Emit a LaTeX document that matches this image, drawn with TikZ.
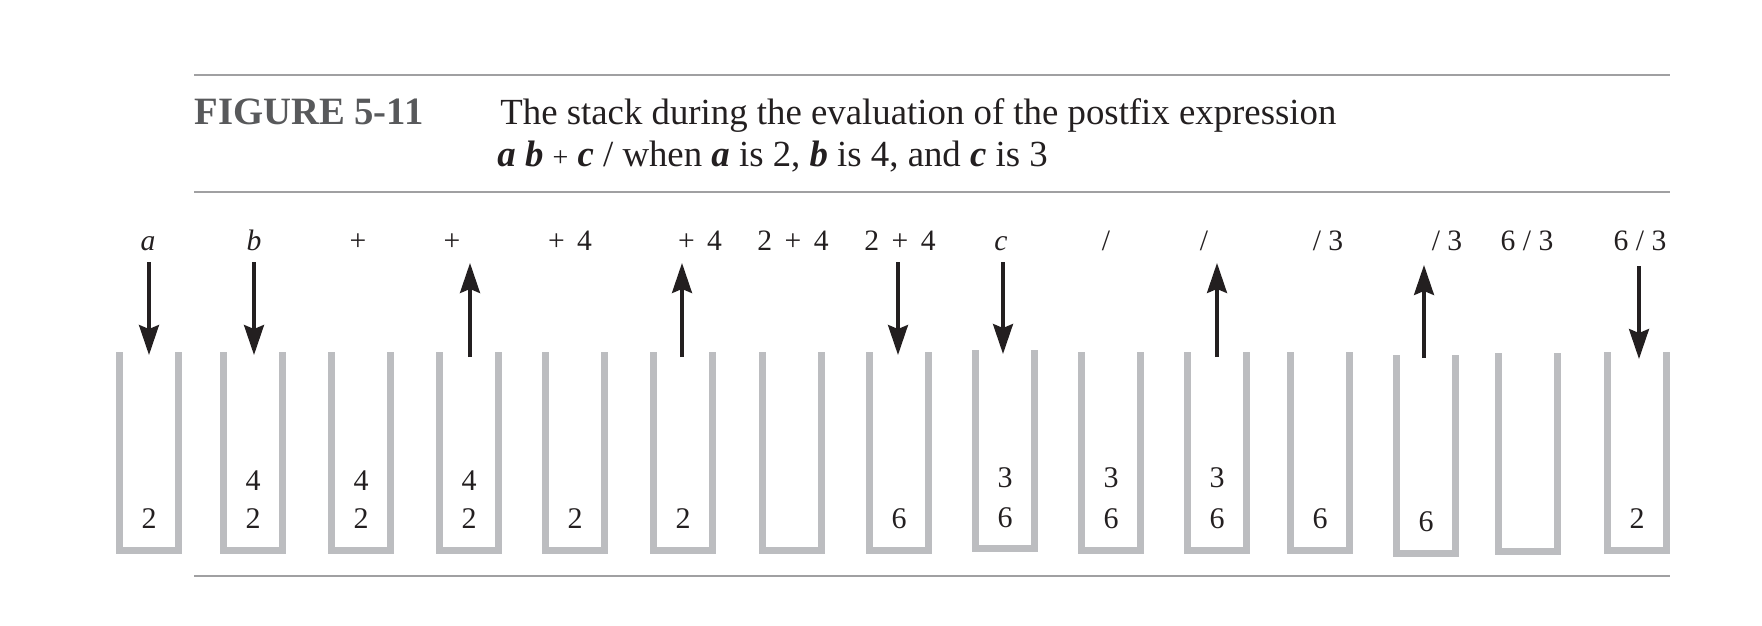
\documentclass[tikz,border=0pt]{standalone}
\usepackage{fontspec}
\setmainfont{Liberation Serif}
\usetikzlibrary{arrows.meta}
\definecolor{wallgray}{RGB}{188,189,192}
\definecolor{rulegray}{RGB}{160,160,162}
\definecolor{figgray}{RGB}{88,89,91}
\definecolor{ink}{RGB}{35,31,32}
\newcommand\opgap{\hspace{0.42em}}
\newcommand\bi[1]{\textbf{\textit{#1}}}
\begin{document}
\begin{tikzpicture}[x=0.5pt,y=-0.5pt,
  stackwall/.style={draw=wallgray,line width=3.5pt,line join=miter},
  rulestyle/.style={draw=rulegray,line width=1pt},
  lbl/.style={anchor=base,inner sep=0pt,font=\fontsize{14.8}{16}\selectfont,text=ink},
  num/.style={anchor=base,inner sep=0pt,font=\fontsize{15}{16}\selectfont,text=ink},
  captext/.style={anchor=base west,inner sep=0pt,font=\fontsize{18.4}{20}\selectfont,text=ink},
  arr/.style={draw=ink,line width=1.6pt,-{Stealth[length=15pt,width=10pt,inset=2pt]}},
]
\useasboundingbox (0,0) rectangle (1762,626);

% rules
\draw[rulestyle] (194,75) -- (1670,75);
\draw[rulestyle] (194,192) -- (1670,192);
\draw[rulestyle] (194,576) -- (1670,576);

% caption
\node[anchor=base west,inner sep=0pt,font=\fontsize{19.35}{20}\selectfont\bfseries,text=figgray] (fig) at (194,125) {FIGURE 5-11};
\node[captext] (cap1) at (500,125) {The stack during the evaluation of the postfix expression};
\node[captext] (cap2) at (497,167) {\bi{a} \bi{b} {\fontsize{14}{14}\selectfont +} \bi{c} / when \bi{a} is 2, \bi{b} is 4, and \bi{c} is 3};

% stacks
\foreach \i/\cx/\dy in {1/149/0, 2/253/0, 3/361/0, 4/469/0, 5/575/0, 6/683/0, 7/792/0, 8/899/0,
  9/1005/-2, 10/1111/0, 11/1217/0, 12/1320/0, 13/1426/3, 14/1528/1, 15/1637/0} {
  \draw[stackwall] (\cx-29.6,352+\dy) -- (\cx-29.6,550.5+\dy) -- (\cx+29.6,550.5+\dy) -- (\cx+29.6,352+\dy);
}

% labels above stacks
\node[lbl] (l1) at (148,250) {\textit{a}};
\node[lbl] (l2) at (254,250) {\textit{b}};
\node[lbl] (l3) at (358,250) {+};
\node[lbl] (l4) at (452,250) {+};
\node[lbl] (l5) at (570,250) {+\opgap4};
\node[lbl] (l6) at (700,250) {+\opgap4};
\node[lbl] (l7) at (793,250) {2\opgap+\opgap4};
\node[lbl] (l8) at (900,250) {2\opgap+\opgap4};
\node[lbl] (l9) at (1001,250) {\textit{c}};
\node[lbl] (l10) at (1106,250) {/};
\node[lbl] (l11) at (1204,250) {/};
\node[lbl] (l12) at (1328,250) {/ 3};
\node[lbl] (l13) at (1447,250) {/ 3};
\node[lbl] (l14) at (1527,250) {6 / 3};
\node[lbl] (l15) at (1640,250) {6 / 3};

% stack contents
\node[num] (s1a) at (149,528) {2};
\node[num] (s2a) at (253,528) {2};
\node[num] (s2b) at (253,490) {4};
\node[num] (s3a) at (361,528) {2};
\node[num] (s3b) at (361,490) {4};
\node[num] (s4a) at (469,528) {2};
\node[num] (s4b) at (469,490) {4};
\node[num] (s5a) at (575,528) {2};
\node[num] (s6a) at (683,528) {2};
\node[num] (s8a) at (899,528) {6};
\node[num] (s9a) at (1005,527) {6};
\node[num] (s9b) at (1005,487) {3};
\node[num] (s10a) at (1111,528) {6};
\node[num] (s10b) at (1111,487) {3};
\node[num] (s11a) at (1217,528) {6};
\node[num] (s11b) at (1217,487) {3};
\node[num] (s12a) at (1320,528) {6};
\node[num] (s13a) at (1426,531) {6};
\node[num] (s15a) at (1637,528) {2};

% arrow end points
\coordinate (hi1) at (149,262);   \coordinate (lo1) at (149,355);
\coordinate (hi2) at (254,262);   \coordinate (lo2) at (254,355);
\coordinate (hi4) at (470,263);   \coordinate (lo4) at (470,357);
\coordinate (hi6) at (682,263);   \coordinate (lo6) at (682,357);
\coordinate (hi8) at (898,262);   \coordinate (lo8) at (898,355);
\coordinate (hi9) at (1003,262);  \coordinate (lo9) at (1003,354);
\coordinate (hi11) at (1217,263); \coordinate (lo11) at (1217,357);
\coordinate (hi13) at (1424,265); \coordinate (lo13) at (1424,358);
\coordinate (hi15) at (1639,266); \coordinate (lo15) at (1639,359);

% push arrows (down)
\draw[arr] (hi1) -- (lo1);
\draw[arr] (hi2) -- (lo2);
\draw[arr] (hi8) -- (lo8);
\draw[arr] (hi9) -- (lo9);
\draw[arr] (hi15) -- (lo15);
% pop arrows (up)
\draw[arr] (lo4) -- (hi4);
\draw[arr] (lo6) -- (hi6);
\draw[arr] (lo11) -- (hi11);
\draw[arr] (lo13) -- (hi13);
\end{tikzpicture}
\end{document}
